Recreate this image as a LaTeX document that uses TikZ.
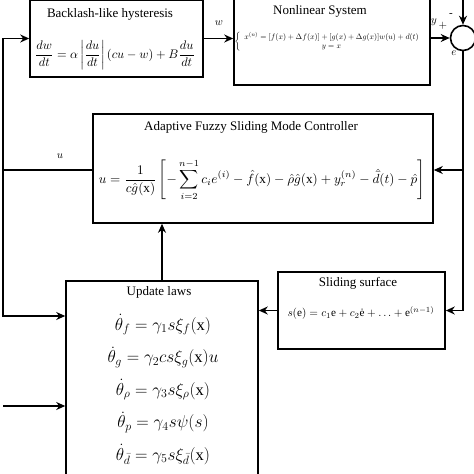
\documentclass[tikz,border=0pt]{standalone}
\usepackage{fontspec}
\setmainfont{Liberation Serif}
\usepackage{amsmath,graphicx}
\usetikzlibrary{arrows.meta,calc}
\begin{document}
\begin{tikzpicture}[x=1pt,y=-1pt,
  blk/.style={draw,line width=1.6pt,inner sep=0pt},
  conn/.style={line width=1.6pt},
  arr/.style={conn,-{Stealth[length=9pt,width=8pt]}},
  ttl/.style={font=\fontsize{13}{15}\selectfont,inner sep=0pt},
  lbl/.style={font=\fontsize{11}{13}\selectfont,inner sep=0pt}]
\useasboundingbox (0,0) rectangle (474,474);
% boxes
\node[blk,minimum width=173pt,minimum height=77pt] (bl) at (116.5,38.5) {};
\node[blk,minimum width=196pt,minimum height=88pt] (ns) at (332,41) {};
\node[blk,minimum width=340pt,minimum height=109pt] (ct) at (263,168.5) {};
\node[blk,minimum width=167pt,minimum height=77pt] (ss) at (361.5,310.5) {};
\node[blk,minimum width=192pt,minimum height=220pt] (ul) at (162,391) {};
\node[draw,circle,line width=1.6pt,minimum size=25pt,inner sep=0pt] (sum) at (463,38) {};
% titles
\node[ttl] (blt) at (110,14) {Backlash-like hysteresis};
\node[ttl] (nst) at (320,11) {Nonlinear System};
\node[ttl] (ctt) at (251,127) {Adaptive Fuzzy Sliding Mode Controller};
\node[ttl] (sst) at (358,283) {Sliding surface};
\node[ttl] (ult) at (159,292) {Update laws};
% equations
\node[inner sep=0pt] (ble) at (115,55) {\resizebox{160pt}{!}{$\displaystyle \frac{dw}{dt}=\alpha\left|\frac{du}{dt}\right|(cu-w)+B\frac{du}{dt}$}};
\node[inner sep=0pt] (nse) at (329,42) {\resizebox{189pt}{!}{$\left\{\begin{array}{c} x^{(n)}=[f(x)+\Delta f(x)]+[g(x)+\Delta g(x)]w(u)+d(t)\\ y=x\end{array}\right.$}};
\node[inner sep=0pt] (cte) at (262,180) {\resizebox{326pt}{!}{$\displaystyle u=\frac{1}{c\hat{g}(\mathrm{x})}\left[-\sum_{i=2}^{n-1}c_ie^{(i)}-\hat{f}(\mathrm{x})-\hat{\rho}\hat{g}(\mathrm{x})+y_r^{(n)}-\hat{\bar{d}}(t)-\hat{p}\right]$}};
\node[inner sep=0pt] (sse) at (361,313) {\resizebox{147pt}{!}{$s(\mathrm{e})=c_1\mathrm{e}+c_2\dot{\mathrm{e}}+\ldots+\mathrm{e}^{(n-1)}$}};
\node[inner sep=0pt,align=center,font=\fontsize{16.5}{32.5}\selectfont,anchor=north] (ule) at (163,314) {%
$\dot\theta_f=\gamma_1 s\xi_f(\mathrm{x})$\\
$\dot\theta_g=\gamma_2 cs\xi_g(\mathrm{x})u$\\
$\dot\theta_\rho=\gamma_3 s\xi_\rho(\mathrm{x})$\\
$\dot\theta_p=\gamma_4 s\psi(s)$\\
$\dot\theta_{\bar d}=\gamma_5 s\xi_{\bar d}(\mathrm{x})$};
% coordinates
\coordinate (j) at (3,170);
\coordinate (ein) at (3,406);
\coordinate (ref) at (463,-6);
\coordinate (jr) at (463,170);
% connectors
\draw[arr] (bl.east) -- (ns.west |- bl.east);
\draw[arr] (ns.east |- sum.west) -- (sum.west);
\draw[arr] (ref) -- (sum.north);
\draw[conn] (ct.west |- j) -- (j);
\draw[arr] (j) |- (bl.west);
\draw[arr] (j) |- (ul.west |- 0,316);
\draw[arr] (ein) -- (ul.west |- ein);
\draw[conn] (sum.south) -- (jr);
\draw[arr] (jr) -- (ct.east |- jr);
\draw[arr] (jr) |- (ss.east);
\draw[arr] (ss.west) -- (ul.east |- ss.west);
\draw[arr] (ul.north -| 162,0) -- (ct.south -| 162,0);
% labels
\node[lbl] (wl) at (219,23) {$w$};
\node[lbl] (ul2) at (60,156) {$u$};
\node[lbl] (yl) at (434,22) {$y$};
\node[lbl] (pl) at (443,26) {$+$};
\node[lbl] (ml) at (451,15) {-};
\node[lbl] (el) at (454,53) {$e$};
\end{tikzpicture}
\end{document}
